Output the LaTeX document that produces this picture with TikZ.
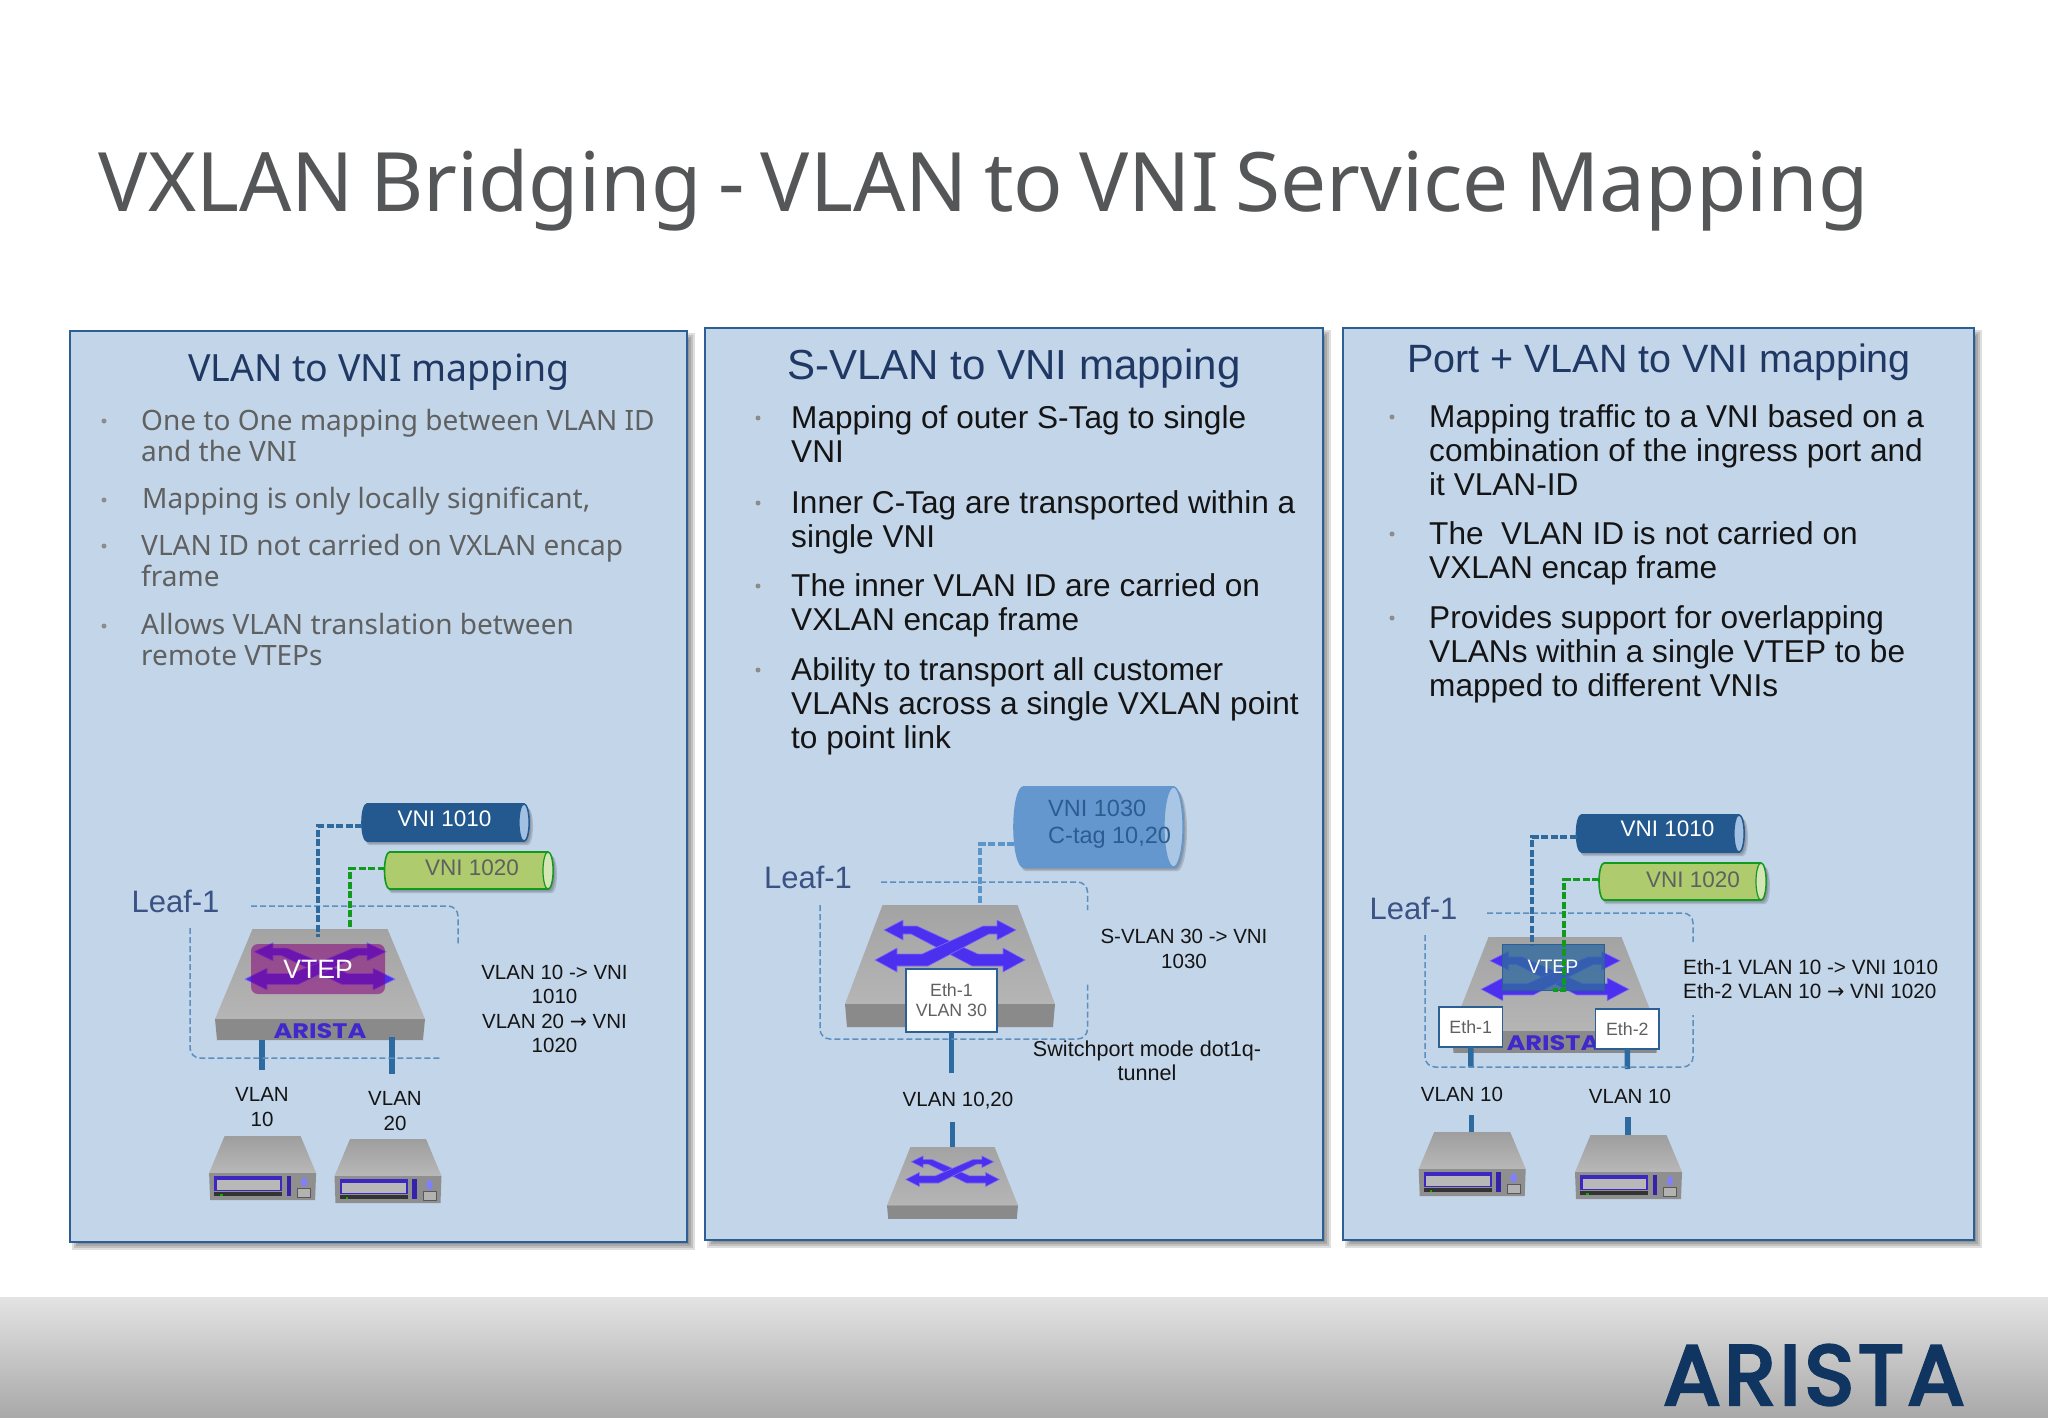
\documentclass[tikz,border=0pt]{standalone}
\usepackage{fontspec}
\setmainfont{Liberation Sans}
\newfontfamily\notofont{Noto Sans}
\newfontfamily\logofont[FakeBold=4,LetterSpace=5]{Poppins}
\newfontfamily\minilogofont{Poppins}
\newfontfamily\symbolfont{DejaVu Sans}
\usetikzlibrary{shapes.geometric}
\definecolor{panelfill}{HTML}{C3D5E9}
\definecolor{panelline}{HTML}{2C5F94}
\definecolor{headink}{HTML}{1F3864}
\definecolor{titleink}{HTML}{555657}
\definecolor{greyink}{HTML}{5F6060}
\definecolor{bodyink}{HTML}{141414}
\definecolor{leafink}{HTML}{3A5284}
\definecolor{leafdash}{HTML}{5C8FBF}
\definecolor{tunnelblue}{HTML}{2F6A9F}
\definecolor{tunnellight}{HTML}{5C96C8}
\definecolor{tunnelgreen}{HTML}{129A1E}
\definecolor{vnidark}{HTML}{23598F}
\definecolor{vnigreen}{HTML}{AECB6E}
\definecolor{vnilight}{HTML}{6497CE}
\definecolor{vniend}{HTML}{A9C6E4}
\definecolor{vnitextblue}{HTML}{2B5D91}
\definecolor{arrowblue}{HTML}{4B30F0}
\definecolor{linkblue}{HTML}{2C6AA0}
\definecolor{logoink}{HTML}{0F3560}
\newcommand\softshadow[4]{%
  \foreach \d in {-2,0,2,4}{\fill[black,opacity=.13] ({#1+6-\d},{#2+6-\d}) rectangle ({#3+4+\d},{#4+4+\d});}%
}
\newcommand\maparrow{{\symbolfont →}}
% name, x0, y0, x1, y1, rx, body fill, line colour, end fill
\newcommand\vnicyl[9]{%
  \pgfmathsetmacro\ymid{(#3+#5)/2}\pgfmathsetmacro\xright{#4-#6}\pgfmathsetmacro\xleft{#2+#6}%
  \pgfmathsetmacro\ryy{(#5-#3)/2}\pgfmathsetmacro\wid{#4-#2}\pgfmathsetmacro\hei{#5-#3}%
  \foreach \d in {1,2.5,4}{\fill[black,opacity=.14]
    ({\xleft+2},{#3+\d}) -- ({\xright+\d},{#3+\d}) arc[start angle=90,end angle=-90,x radius=#6 pt,y radius=\ryy pt]
    -- ({\xleft+2},{#5+\d}) arc[start angle=270,end angle=90,x radius=#6 pt,y radius=\ryy pt] -- cycle;}%
  \filldraw[fill=#7,draw=#8,line width=1.6pt]
    (\xleft,#3) -- (\xright,#3) arc[start angle=90,end angle=-90,x radius=#6 pt,y radius=\ryy pt]
    -- (\xleft,#5) arc[start angle=270,end angle=90,x radius=#6 pt,y radius=\ryy pt] -- cycle;
  \filldraw[fill=#9,draw=#8,line width=1.2pt] (\xright,\ymid) ellipse[x radius=#6 pt,y radius=\ryy pt];
  \node[anchor=north west,inner sep=0,outer sep=0,minimum width=\wid pt,minimum height=\hei pt] (#1) at (#2,#3) {};
}
\tikzset{
 x=1pt,y=-1pt,
 panelbox/.style={draw=panelline,fill=panelfill,line width=2pt,anchor=north west,inner sep=0,outer sep=0},
 headtext/.style={text=headink,inner sep=0},
 bulletdot/.style={circle,fill=black!45,minimum size=5pt,inner sep=0},
 greypara/.style={anchor=north west,align=left,inner sep=0,text=greyink,font=\notofont\fontsize{28}{31}\selectfont},
 bodypara/.style={anchor=north west,align=left,inner sep=0,text=bodyink,font=\fontsize{31.6}{34}\selectfont},
 leaflabel/.style={text=leafink,inner sep=0,font=\fontsize{31}{34}\selectfont},
 smalltext/.style={text=bodyink,inner sep=0,align=center,font=\fontsize{20.5}{24.5}\selectfont},
 leafline/.style={draw=leafdash,line width=1.5pt,dash pattern=on 6pt off 3pt,rounded corners=10pt},
 bluetunnel/.style={draw=tunnelblue,line width=3.2pt,dash pattern=on 7pt off 2.5pt},
 lighttunnel/.style={draw=tunnellight,line width=3.2pt,dash pattern=on 7pt off 2.5pt},
 greentunnel/.style={draw=tunnelgreen,line width=3.2pt,dash pattern=on 7pt off 2.5pt},
 linkline/.style={draw=linkblue,line width=5.5pt},
 vnitext/.style={inner sep=0,font=\fontsize{22.5}{27}\selectfont},
 portbox/.style={draw=panelline,fill=white,line width=1.8pt,inner sep=0,outer sep=0,text=greyink,align=center,font=\fontsize{17.8}{20}\selectfont},
 switchlogo/.style={inner sep=0,xscale=1.22,text=arrowblue!85!black,font=\minilogofont\bfseries\fontsize{21}{22}\selectfont},
 vtepbox/.style={inner sep=0,outer sep=0,rounded corners=7pt,text=white},
 pics/switchbody/.style={code={
   \shade[top color=black!36,middle color=black!23,bottom color=black!29] (-67.5,0)--(67.5,0)--(105,99)--(-105,99)--cycle;
   \fill[black!46] (-105,99)--(105,99)--(103,122)--(-103,122)--cycle;
   \foreach \m in {1,-1}{
   \fill[arrowblue,draw=arrowblue!70!white,line width=.6pt,xscale=\m]
     (-66,25)--(-47,15)--(-47,21)--(-33,21)--(28,49)--(53,49)--(53,43)--(75,55)--(53,67)--(53,61)--(22,61)--(-39,29)--(-47,29)--(-47,35)--cycle;
   }
 }},
 pics/serverbody/.style={code={
   \shade[top color=black!38,bottom color=black!28] (-38,0)--(38,0)--(53.5,37)--(-53.5,37)--cycle;
   \fill[black!44] (-53.5,37)--(53.5,37)--(52.5,64)--(-52.5,64)--cycle;
   \fill[arrowblue!80!black] (-48.5,40) rectangle (19.5,55);
   \fill[black!28] (-46,43.7) rectangle (17.5,53.7);
   \fill[black!80] (-48.5,56) rectangle (19.5,60);
   \fill[green!70!black] (-42.5,58) rectangle (-40,60);
   \fill[arrowblue!70!black] (24,40) rectangle (28.5,60);
   \fill[blue!50!white] (41.5,46) ellipse[x radius=3pt,y radius=5pt];
   \fill[black!30,draw=black!65,line width=.7pt] (35,52) rectangle (48,61);
 }}
}
\begin{document}
\begin{tikzpicture}
\useasboundingbox (0,0) rectangle (2048,1418);
\fill[white] (0,0) rectangle (2048,1418);
\shade[top color=black!11,bottom color=black!34] (0,1297) rectangle (2048,1418);
\node[inner sep=0,text=titleink,font=\notofont\fontsize{82}{100}\selectfont] (title) at (984,190) {\spaceskip=.2em VXLAN Bridging - VLAN to VNI Service Mapping};
\node[inner sep=0,text=logoink,font=\logofont\fontsize{84}{90}\selectfont] (logo) at (1814,1375) {ARISTA};

\softshadow{70}{331}{687}{1242}
\softshadow{705}{328}{1323}{1240}
\softshadow{1343}{328}{1974}{1240}
\node[panelbox,minimum width=617pt,minimum height=911pt] (panelA) at (70,331) {};
\node[panelbox,minimum width=618pt,minimum height=912pt] (panelB) at (705,328) {};
\node[panelbox,minimum width=631pt,minimum height=912pt] (panelC) at (1343,328) {};

% ---------- panel A text
\node[headtext,font=\notofont\fontsize{37.5}{44}\selectfont] (headA) at (379,372) {VLAN to VNI mapping};
\node[bulletdot] (bA1) at (104,421) {};
\node[greypara] (pA1) at (141,409) {One to One mapping between VLAN ID\\and the VNI};
\node[bulletdot] (bA2) at (104,500) {};
\node[greypara] (pA2) at (142,487) {Mapping is only locally significant,};
\node[bulletdot] (bA3) at (104,546) {};
\node[greypara] (pA3) at (141,534) {VLAN ID not carried on VXLAN encap\\frame};
\node[bulletdot] (bA4) at (104,626) {};
\node[greypara] (pA4) at (141,613) {Allows VLAN translation between\\remote VTEPs};

% ---------- panel B text
\node[headtext,font=\fontsize{42}{46}\selectfont] (headB) at (1014,369) {S-VLAN to VNI mapping};
\node[bulletdot] (bB1) at (758,418) {};
\node[bodypara] (pB1) at (791,405) {Mapping of outer S-Tag to single\\VNI};
\node[bulletdot] (bB2) at (758,503) {};
\node[bodypara] (pB2) at (791,490) {Inner C-Tag are transported within a\\single VNI};
\node[bulletdot] (bB3) at (758,586) {};
\node[bodypara] (pB3) at (791,573) {The inner VLAN ID are carried on\\VXLAN encap frame};
\node[bulletdot] (bB4) at (758,670) {};
\node[bodypara] (pB4) at (791,657) {Ability to transport all customer\\VLANs across a single VXLAN point\\to point link};

% ---------- panel C text
\node[headtext,font=\fontsize{39.5}{46}\selectfont] (headC) at (1659,362) {Port + VLAN to VNI mapping};
\node[bulletdot] (bC1) at (1392,417) {};
\node[bodypara] (pC1) at (1429,404) {Mapping traffic to a VNI based on a\\combination of the ingress port and\\it VLAN-ID};
\node[bulletdot] (bC2) at (1392,534) {};
\node[bodypara] (pC2) at (1429,521) {The \ VLAN ID is not carried on\\VXLAN encap frame};
\node[bulletdot] (bC3) at (1392,618) {};
\node[bodypara] (pC3) at (1429,605) {Provides support for overlapping\\VLANs within a single VTEP to be\\mapped to different VNIs};

% ---------- panel A diagram
\vnicyl{vniAa}{362}{804}{529}{841}{5}{vnidark}{vnidark}{vnilight!60!white}
\node[vnitext,text=white] (vniAat) at (444.5,819) {VNI 1010};
\vnicyl{vniAb}{384.5}{852}{553}{889}{5}{vnigreen}{tunnelgreen}{vnigreen!50!white}
\node[vnitext,text=greyink] (vniAbt) at (472,868) {VNI 1020};
\node[leaflabel] (leafA) at (175.5,901) {Leaf-1};
\coordinate (leafAa) at (251,906); \coordinate (leafAb) at (458,906); \coordinate (leafAc) at (458,946);
\coordinate (leafAd) at (190,928); \coordinate (leafAe) at (190,1058); \coordinate (leafAf) at (441,1058);
\coordinate (tapAa) at (318,937); \coordinate (tapAb) at (350,928);
\coordinate (portAa) at (262,1040); \coordinate (endAa) at (262,1070);
\coordinate (portAb) at (392,1037); \coordinate (endAb) at (392,1074);
\pic[yscale=.91] at (320,929) {switchbody};
\node[vtepbox,fill=purple!70!blue,fill opacity=.55,text opacity=1,minimum width=134pt,minimum height=50pt,font=\fontsize{26.6}{28}\selectfont] (vtepA) at (318,969) {VTEP};
\node[switchlogo] (logoA) at (320,1031) {ARISTA};
\draw[linkline] (portAa) -- (endAa);
\draw[linkline] (portAb) -- (endAb);
\draw[leafline] (leafAa) -- (leafAb) -- (leafAc);
\draw[leafline] (leafAd) -- (leafAe) -- (leafAf);
\draw[bluetunnel] ([yshift=-3.5pt]vniAa.west) -| (tapAa);
\draw[greentunnel] ([yshift=2pt]vniAb.west) -| (tapAb);
\node[smalltext] (mapA) at (554.5,1009) {VLAN 10 -> VNI\\1010\\VLAN 20 \maparrow{} VNI\\1020};
\node[smalltext] (vlanAa) at (262,1107) {VLAN\\10};
\node[smalltext] (vlanAb) at (395,1111) {VLAN\\20};
\pic at (262.6,1136) {serverbody};
\pic at (388,1139) {serverbody};

% ---------- panel B diagram
\vnicyl{vniB}{1014}{787}{1183}{867}{9.5}{vnilight}{vnilight}{vniend}
\node[vnitext,text=vnitextblue,align=left,anchor=west,font=\fontsize{23.5}{27}\selectfont] (vniBt) at (1048,824) {VNI 1030\\C-tag 10,20};
\node[leaflabel] (leafB) at (808,877) {Leaf-1};
\coordinate (leafBa) at (881,882); \coordinate (leafBb) at (1087.5,882); \coordinate (leafBc) at (1087.5,910);
\coordinate (leafBd) at (820,905); \coordinate (leafBe) at (820,1039); \coordinate (leafBf) at (1087.5,1039); \coordinate (leafBg) at (1087.5,984);
\coordinate (tapB) at (980,905);
\coordinate (endBa) at (951.4,1073);
\coordinate (startBb) at (952.5,1122); \coordinate (endBb) at (952.5,1147);
\pic at (950,905) {switchbody};
\node[portbox,minimum width=91pt,minimum height=63pt] (ethB) at (951.4,1000.5) {Eth-1\\VLAN 30};
\draw[linkline] (ethB.south) -- (endBa);
\draw[linkline] (startBb) -- (endBb);
\draw[leafline] (leafBa) -- (leafBb) -- (leafBc);
\draw[leafline] (leafBd) -- (leafBe) -- (leafBf) -- (leafBg);
\draw[lighttunnel] ([yshift=-17pt]vniB.west) -| (tapB);
\node[smalltext] (mapB) at (1184,949) {S-VLAN 30 -> VNI\\1030};
\node[smalltext,font=\fontsize{21.6}{24.5}\selectfont] (modeB) at (1147,1061) {Switchport mode dot1q-\\tunnel};
\node[smalltext] (vlanB) at (958,1101) {VLAN 10,20};
\pic[xscale=.624,yscale=.59] at (952.5,1147) {switchbody};

% ---------- panel C diagram
\vnicyl{vniCa}{1576.5}{815}{1744}{852}{5}{vnidark}{vnidark}{vnilight!60!white}
\node[vnitext,text=white] (vniCat) at (1667.5,829) {VNI 1010};
\vnicyl{vniCb}{1599}{863}{1766}{900}{5}{vnigreen}{tunnelgreen}{vnigreen!50!white}
\node[vnitext,text=greyink] (vniCbt) at (1693,880) {VNI 1020};
\node[leaflabel] (leafC) at (1413.5,908) {Leaf-1};
\coordinate (leafCa) at (1487,913); \coordinate (leafCb) at (1693,913); \coordinate (leafCc) at (1693,942);
\coordinate (leafCd) at (1425,935); \coordinate (leafCe) at (1425,1067); \coordinate (leafCf) at (1693,1067); \coordinate (leafCg) at (1693,1015);
\coordinate (tapCa) at (1532,945); \coordinate (tapCb) at (1564,990); \coordinate (tapCc) at (1553,990);
\coordinate (endCa) at (1471,1067); \coordinate (endCb) at (1627.5,1069);
\coordinate (startCc) at (1471.5,1115); \coordinate (endCc) at (1471.5,1134);
\coordinate (startCd) at (1628,1117); \coordinate (endCd) at (1628,1137);
\pic[xscale=.985,yscale=.95] at (1555,937) {switchbody};
\node[draw=panelline,fill=tunnelblue,fill opacity=.78,draw opacity=1,text opacity=1,text=white,inner sep=0,outer sep=0,minimum width=102pt,minimum height=46pt,font=\fontsize{19.5}{22}\selectfont] (vtepC) at (1553,967) {VTEP};
\node[switchlogo] (logoC) at (1553,1043) {ARISTA};
\node[portbox,minimum width=63.5pt,minimum height=40pt] (ethCa) at (1470.7,1027) {Eth-1};
\node[portbox,minimum width=63.5pt,minimum height=40pt] (ethCb) at (1627.3,1029) {Eth-2};
\draw[linkline] (ethCa.south) -- (endCa);
\draw[linkline] (ethCb.south) -- (endCb);
\draw[linkline] (startCc) -- (endCc);
\draw[linkline] (startCd) -- (endCd);
\draw[leafline] (leafCa) -- (leafCb) -- (leafCc);
\draw[leafline] (leafCd) -- (leafCe) -- (leafCf) -- (leafCg);
\draw[bluetunnel] ([yshift=-3.5pt]vniCa.west) -| (tapCa);
\draw[greentunnel] ([yshift=2pt]vniCb.west) -| (tapCb) -- (tapCc);
\node[smalltext,align=left,anchor=west,font=\fontsize{20.7}{24.5}\selectfont] (mapC) at (1683,979) {Eth-1 VLAN 10 -> VNI 1010\\Eth-2 VLAN 10 \maparrow{} VNI 1020};
\node[smalltext] (vlanCa) at (1462,1094) {VLAN 10};
\node[smalltext] (vlanCb) at (1630,1096) {VLAN 10};
\pic at (1472.2,1132) {serverbody};
\pic at (1628.5,1135) {serverbody};
\end{tikzpicture}
\end{document}
